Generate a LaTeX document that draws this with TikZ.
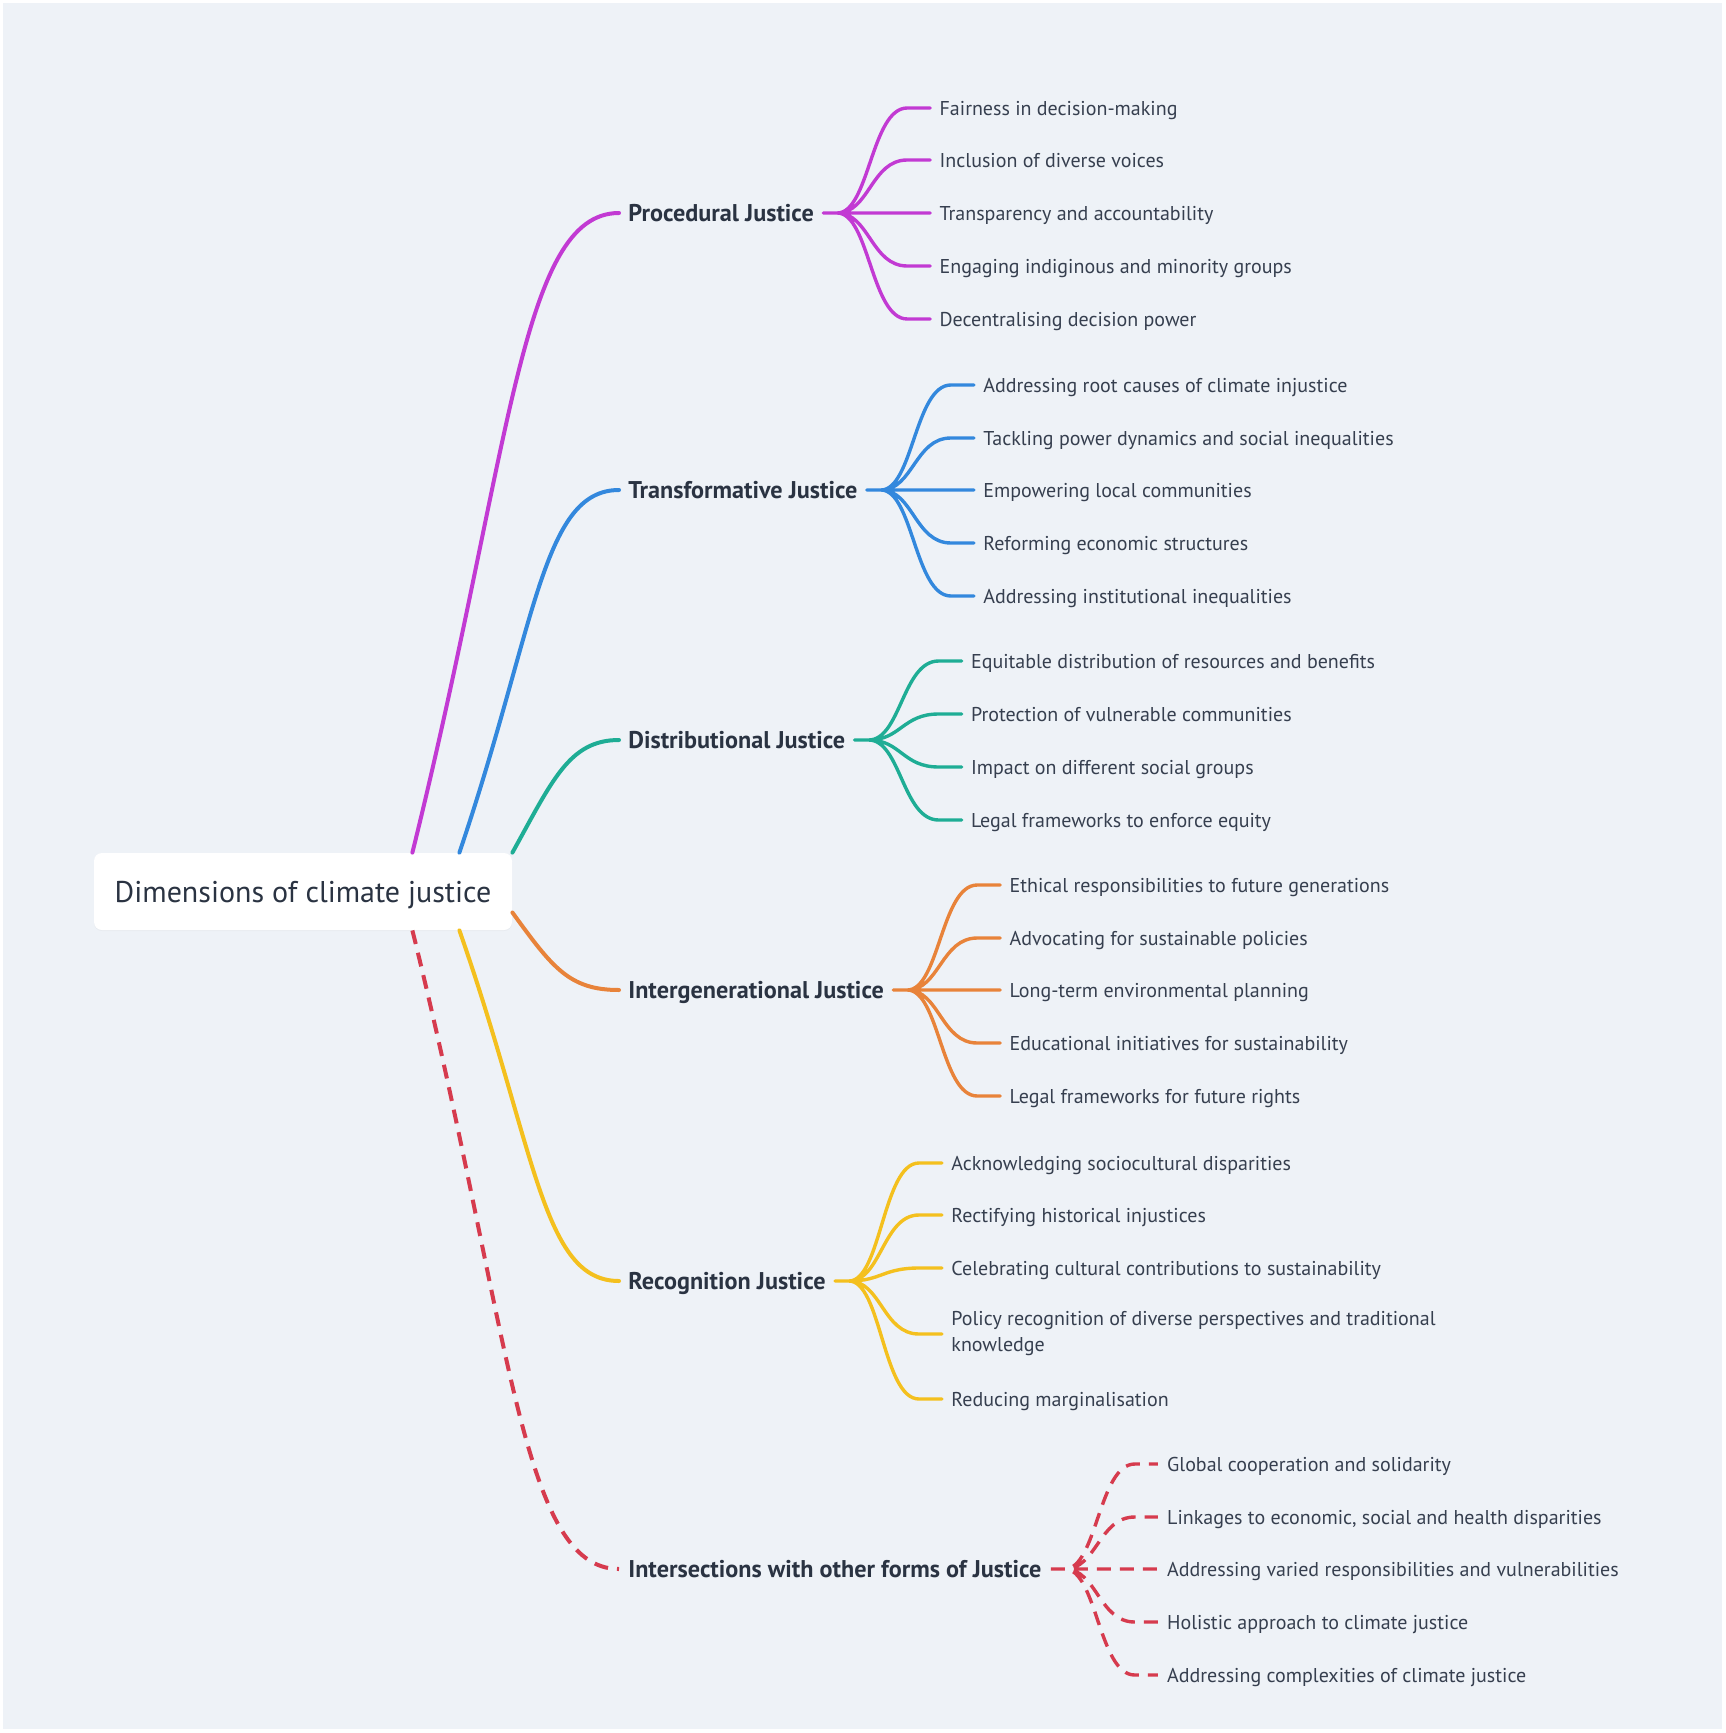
\documentclass[tikz,border=0pt]{standalone}
\usepackage{fontspec}
\setmainfont{PT Sans}
\usetikzlibrary{positioning, calc, shadows}

\definecolor{bgpaper}{HTML}{EEF2F7}
\definecolor{inkdark}{HTML}{2A3342}
\definecolor{inkleaf}{HTML}{363F4F}
\definecolor{cproc}{HTML}{C23AD3}
\definecolor{ctrans}{HTML}{3388DD}
\definecolor{cdist}{HTML}{1EAD95}
\definecolor{cinter}{HTML}{E8833A}
\definecolor{crecog}{HTML}{F4C01E}
\definecolor{cother}{HTML}{D63B4E}

\begin{document}
\begin{tikzpicture}[
    x=0.5pt, y=-0.5pt,
    font=\fontsize{10}{13}\selectfont,
    root/.style={rounded corners=4pt, fill=white, text=inkdark,
        minimum width=209pt, minimum height=38.5pt, inner sep=0pt, text depth=0pt,
        font=\fontsize{15}{17}\selectfont,
        drop shadow={shadow xshift=0pt, shadow yshift=-0.5pt, opacity=0.06}},
    branch/.style={anchor=west, text=inkdark, inner sep=4.5pt, text depth=0pt,
        font=\fontsize{12.1}{14}\selectfont\bfseries},
    leaf/.style={anchor=west, text=inkleaf, inner sep=4.5pt, text depth=0pt, align=left},
    trunk/.style={draw=#1, line width=2pt, line cap=round},
    twig/.style={draw=#1, line width=1.7pt, line cap=round,
        to path={-- ++(14,0) .. controls +(32,0) and +(-36,0) .. ($(\tikztotarget)+(-23,0)$) -- (\tikztotarget)}},
    dashy/.style={line cap=butt, dash pattern=on 7pt off 4.5pt}
  ]
    \fill[white] (0,0) rectangle (1725,1733);
    \fill[bgpaper] (3,3) rectangle (1722,1729);
    \useasboundingbox (0,0) rectangle (1725,1733);

    \node[root] (root) at (303,891.5) {Dimensions of climate justice};

    \node[branch] (pj) at (619,213) {Procedural Justice};
    \node[branch] (tj) at (619,490) {Transformative Justice};
    \node[branch] (dj) at (619,740) {Distributional Justice};
    \node[branch] (ij) at (619,990) {Intergenerational Justice};
    \node[branch] (rj) at (619,1281) {Recognition Justice};
    \node[branch] (oj) at (619,1569) {Intersections with other forms of Justice};

    \draw[trunk=cproc] ($(root.north east)+(-100,0)$) .. controls +(99,-400) and +(-99,0) .. (pj.west);
    \draw[trunk=ctrans] ($(root.north east)+(-53,0)$) .. controls +(77,-227) and +(-77,0) .. (tj.west);
    \draw[trunk=cdist] (root.north east) .. controls +(40,-72) and +(-50,0) .. (dj.west);
    \draw[trunk=cinter] ($(root.east)+(0,21)$) .. controls +(40,55) and +(-50,0) .. (ij.west);
    \draw[trunk=crecog] ($(root.south east)+(-53,0)$) .. controls +(77,220) and +(-77,0) .. (rj.west);
    \draw[trunk=cother, dashy] ($(root.south east)+(-100,0)$) .. controls +(99,400) and +(-99,0) .. (oj.west);

    % procedural
    \node[leaf] (p1) at ($(pj.east)+(107,-105)$) {Fairness in decision-making};
    \node[leaf] (p2) at ($(pj.east)+(107,-53)$) {Inclusion of diverse voices};
    \node[leaf] (p3) at ($(pj.east)+(107,0)$) {Transparency and accountability};
    \node[leaf] (p4) at ($(pj.east)+(107,53)$) {Engaging indiginous and minority groups};
    \node[leaf] (p5) at ($(pj.east)+(107,106)$) {Decentralising decision power};
    \draw[twig=cproc] (pj.east) to (p1.west) (pj.east) to (p2.west) (pj.east) to (p3.west)
        (pj.east) to (p4.west) (pj.east) to (p5.west);

    % transformative
    \node[leaf] (t1) at ($(tj.east)+(107,-105)$) {Addressing root causes of climate injustice};
    \node[leaf] (t2) at ($(tj.east)+(107,-52)$) {Tackling power dynamics and social inequalities};
    \node[leaf] (t3) at ($(tj.east)+(107,0)$) {Empowering local communities};
    \node[leaf] (t4) at ($(tj.east)+(107,53)$) {Reforming economic structures};
    \node[leaf] (t5) at ($(tj.east)+(107,106)$) {Addressing institutional inequalities};
    \draw[twig=ctrans] (tj.east) to (t1.west) (tj.east) to (t2.west) (tj.east) to (t3.west)
        (tj.east) to (t4.west) (tj.east) to (t5.west);

    % distributional
    \node[leaf] (d1) at ($(dj.east)+(107,-79)$) {Equitable distribution of resources and benefits};
    \node[leaf] (d2) at ($(dj.east)+(107,-26)$) {Protection of vulnerable communities};
    \node[leaf] (d3) at ($(dj.east)+(107,27)$) {Impact on different social groups};
    \node[leaf] (d4) at ($(dj.east)+(107,80)$) {Legal frameworks to enforce equity};
    \draw[twig=cdist] (dj.east) to (d1.west) (dj.east) to (d2.west) (dj.east) to (d3.west)
        (dj.east) to (d4.west);

    % intergenerational
    \node[leaf] (g1) at ($(ij.east)+(107,-105)$) {Ethical responsibilities to future generations};
    \node[leaf] (g2) at ($(ij.east)+(107,-52)$) {Advocating for sustainable policies};
    \node[leaf] (g3) at ($(ij.east)+(107,0)$) {Long-term environmental planning};
    \node[leaf] (g4) at ($(ij.east)+(107,53)$) {Educational initiatives for sustainability};
    \node[leaf] (g5) at ($(ij.east)+(107,106)$) {Legal frameworks for future rights};
    \draw[twig=cinter] (ij.east) to (g1.west) (ij.east) to (g2.west) (ij.east) to (g3.west)
        (ij.east) to (g4.west) (ij.east) to (g5.west);

    % recognition
    \node[leaf] (r1) at ($(rj.east)+(107,-118)$) {Acknowledging sociocultural disparities};
    \node[leaf] (r2) at ($(rj.east)+(107,-66)$) {Rectifying historical injustices};
    \node[leaf] (r3) at ($(rj.east)+(107,-13)$) {Celebrating cultural contributions to sustainability};
    \node[leaf, text depth={}] (r4) at ($(rj.east)+(107,53)$) {Policy recognition of diverse perspectives and traditional\\knowledge};
    \node[leaf] (r5) at ($(rj.east)+(107,118)$) {Reducing marginalisation};
    \draw[twig=crecog] (rj.east) to (r1.west) (rj.east) to (r2.west) (rj.east) to (r3.west)
        (rj.east) to (r4.west) (rj.east) to (r5.west);

    % intersections
    \node[leaf] (o1) at ($(oj.east)+(107,-105)$) {Global cooperation and solidarity};
    \node[leaf] (o2) at ($(oj.east)+(107,-52)$) {Linkages to economic, social and health disparities};
    \node[leaf] (o3) at ($(oj.east)+(107,0)$) {Addressing varied responsibilities and vulnerabilities};
    \node[leaf] (o4) at ($(oj.east)+(107,53)$) {Holistic approach to climate justice};
    \node[leaf] (o5) at ($(oj.east)+(107,106)$) {Addressing complexities of climate justice};
    \draw[twig=cother, dashy] (oj.east) to (o1.west) (oj.east) to (o2.west) (oj.east) to (o3.west)
        (oj.east) to (o4.west) (oj.east) to (o5.west);
  \end{tikzpicture}
\end{document}
